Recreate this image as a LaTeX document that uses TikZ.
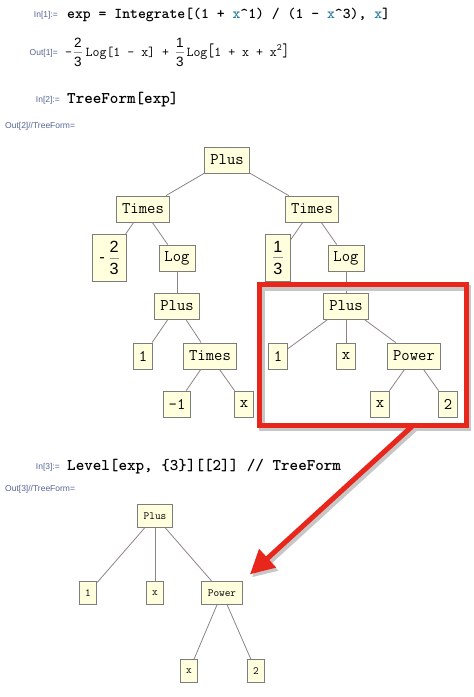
\documentclass[tikz,border=0pt]{standalone}
\usepackage{fontspec}
\setmainfont{Liberation Sans}
\usetikzlibrary{arrows.meta,calc,fit}
\definecolor{cellfill}{RGB}{255,255,222}
\definecolor{cellline}{RGB}{125,125,125}
\definecolor{edgegray}{RGB}{140,132,132}
\definecolor{promptblue}{RGB}{85,100,150}
\definecolor{symblue}{RGB}{45,125,160}
\definecolor{markred}{RGB}{232,38,28}
\definecolor{fracgray}{RGB}{150,150,150}
\newcommand{\fracstk}[2]{\ensuremath{\vcenter{\offinterlineskip\halign{\hfil\rmfamily##\hfil\cr#1\cr\noalign{\kern.3em{\color{fracgray}\hrule height.05em}\kern.3em}#2\cr}}}}

\begin{document}
\begin{tikzpicture}[x=1pt,y=-1pt,
 prompt/.style={font=\fontsize{8.5}{10}\selectfont,text=promptblue,inner sep=0pt},
 code/.style={font=\ttfamily\bfseries\fontsize{16.3}{18}\selectfont,inner sep=0pt},
 outcode/.style={font=\ttfamily\fontsize{13.5}{15}\selectfont,inner sep=0pt},
 cell/.style={draw=cellline,fill=cellfill,line width=0.8pt,font=\ttfamily\fontsize{16.2}{18}\selectfont,inner xsep=5.5pt,inner ysep=0pt,minimum height=26pt},
 fraccell/.style={cell,minimum height=47pt,inner xsep=5pt},
 small/.style={cell,font=\ttfamily\fontsize{11}{13}\selectfont,inner xsep=6pt,minimum height=23pt},
 link/.style={draw=edgegray,line width=0.8pt},
 hilite/.style={draw=markred,line width=5pt},
 pointer/.style={draw=markred,line width=5pt,-{Triangle[length=24pt,width=24pt]},shorten >=10pt},
 shade/.style={draw=black!22,line width=6pt}]
\useasboundingbox (0,0) rectangle (474,697);
\node[prompt,anchor=base east] (in1) at (58,17) {In[1]:=};
\node[code,anchor=base west,font=\ttfamily\bfseries\fontsize{15}{17}\selectfont] (cmd1) at (67,18) {exp = Integrate[(1 + {\color{symblue}x}\textasciicircum 1) / (1 - {\color{symblue}x}\textasciicircum 3), {\color{symblue}x}]};
\node[prompt,anchor=base east] (out1) at (58,55) {Out[1]=};
\node[outcode,anchor=base west] (res1) at (65,56) {-\hspace{2pt}\fracstk{2}{3}\hspace{4pt}Log[1 - x] + \fracstk{1}{3}\hspace{3pt}Log\scalebox{1}[1.35]{[}1 + x + x\textsuperscript{2}\scalebox{1}[1.35]{]}};
\node[prompt,anchor=base east] (in2) at (60,102) {In[2]:=};
\node[code,anchor=base west] (cmd2) at (67,103) {TreeForm[exp]};
\node[prompt,anchor=base west] (out2) at (5,128) {Out[2]//TreeForm=};
\node[cell] (pA) at (227,160) {Plus};
\node[cell] (tmL) at (143,209) {Times};
\node[cell] (tmR) at (312,209) {Times};
\node[fraccell,minimum width=34pt] (frN) at (109,258) {{\rmfamily -}\hspace{5pt}\fracstk{2}{3}};
\node[cell] (lgL) at (177,258) {Log};
\node[fraccell,minimum width=25pt] (frP) at (278,258) {\fracstk{1}{3}};
\node[cell] (lgR) at (346,258) {Log};
\node[cell] (plL) at (177,306) {Plus};
\node[cell] (plR) at (346,306) {Plus};
\node[cell] (oneL) at (143,356) {1};
\node[cell] (tmI) at (210,356) {Times};
\node[cell] (oneR) at (278,356) {1};
\node[cell] (xR) at (346,356) {x};
\node[cell] (pwR) at (414,356) {Power};
\node[cell] (mone) at (177,404) {-1};
\node[cell] (xL) at (244,404) {x};
\node[cell] (xR2) at (380,404) {x};
\node[cell] (twoR) at (448,404) {2};
\draw[link] (pA)--(tmL);
\draw[link] (pA)--(tmR);
\draw[link] (tmL)--(frN);
\draw[link] (tmL)--(lgL);
\draw[link] (tmR)--(frP);
\draw[link] (tmR)--(lgR);
\draw[link] (lgL)--(plL);
\draw[link] (lgR)--(plR);
\draw[link] (plL)--(oneL);
\draw[link] (plL)--(tmI);
\draw[link] (tmI)--(mone);
\draw[link] (tmI)--(xL);
\draw[link] (plR)--(oneR);
\draw[link] (plR)--(xR);
\draw[link] (plR)--(pwR);
\draw[link] (pwR)--(xR2);
\draw[link] (pwR)--(twoR);
\node[prompt,anchor=base east] (in3) at (60,469) {In[3]:=};
\node[code,anchor=base west] (cmd3) at (67,470) {Level[exp, \{3\}][[2]] // TreeForm};
\node[prompt,anchor=base west] (out3) at (5,491) {Out[3]//TreeForm=};
\node[small] (pB) at (155,516) {Plus};
\node[small] (oneB) at (88,593) {1};
\node[small] (xB) at (155,593) {x};
\node[small] (pwB) at (222,593) {Power};
\node[small] (xB2) at (189,671) {x};
\node[small] (twoB) at (256,671) {2};
\draw[link] (pB)--(oneB);
\draw[link] (pB)--(xB);
\draw[link] (pB)--(pwB);
\draw[link] (pwB)--(xB2);
\draw[link] (pwB)--(twoB);
\node[inner sep=8pt,outer sep=0pt,fit=(plR)(oneR)(pwR)(xR2)(twoR)] (hl) {};
\coordinate (tail) at ($(hl.south west)!0.743!(hl.south east)$);
\draw[shade] ([shift={(2,3)}]hl.north west) rectangle ([shift={(2,3)}]hl.south east);
\draw[hilite] (hl.north west) rectangle (hl.south east);
\draw[shade,-{Triangle[length=24pt,width=24pt]},shorten >=10pt] ([shift={(2,3)}]tail)--([shift={(2,3)}]pwB.north east);
\draw[pointer] (tail)--(pwB.north east);
\end{tikzpicture}
\end{document}
